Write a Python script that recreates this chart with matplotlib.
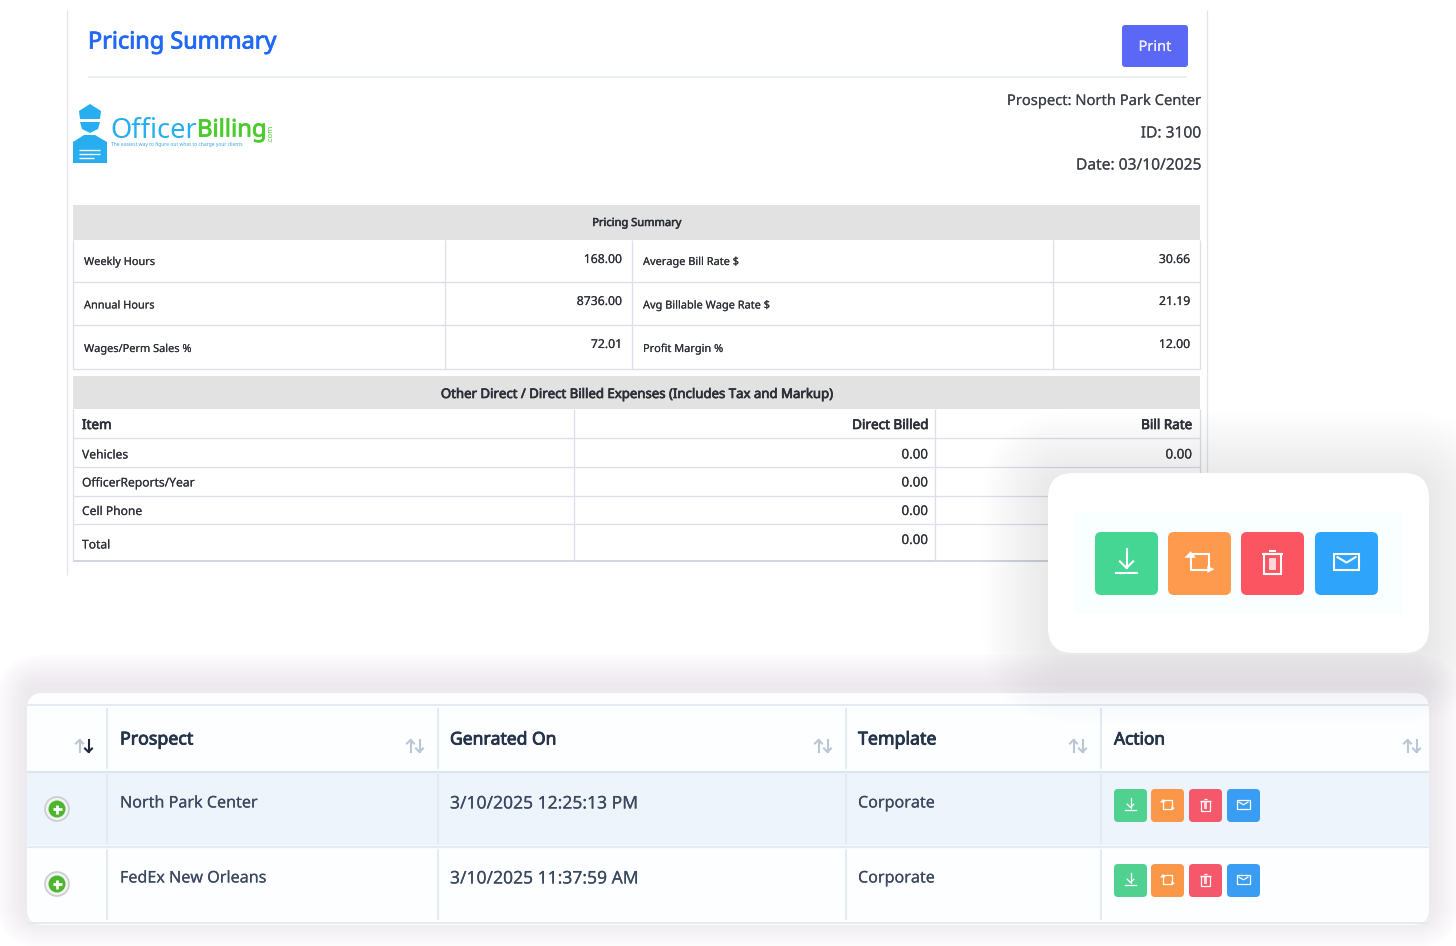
import matplotlib
matplotlib.use('Agg')
import matplotlib.pyplot as plt
import matplotlib.patheffects as pe
from matplotlib.patches import FancyBboxPatch, Rectangle, Circle, Polygon

plt.rcParams['font.family'] = ['Noto Sans', 'DejaVu Sans']

# Text and values
summary_left = ['Weekly Hours', 'Annual Hours', 'Wages/Perm Sales %']
summary_left_vals = ['168.00', '8736.00', '72.01']
summary_right = ['Average Bill Rate $', 'Avg Billable Wage Rate $', 'Profit Margin %']
summary_right_vals = ['30.66', '21.19', '12.00']
expense_items = ['Vehicles', 'OfficerReports/Year', 'Cell Phone', 'Total']
expense_direct = ['0.00', '0.00', '0.00', '0.00']
expense_bill = ['0.00']
prospects = ['North Park Center', 'FedEx New Orleans']
generated = ['3/10/2025 12:25:13 PM', '3/10/2025 11:37:59 AM']
templates = ['Corporate', 'Corporate']
list_headers = ['Prospect', 'Genrated On', 'Template', 'Action']
button_colors = ['#45d694', '#fd9a4e', '#fb5562', '#2fa4fb']
small_button_colors = ['#50d190', '#fb9748', '#f5586a', '#389df3']

fig = plt.figure(figsize=(14.56, 9.46), dpi=100)
ax = fig.add_axes([0, 0, 1, 1])
ax.set_xlim(0, 1456)
ax.set_ylim(946, 0)
ax.axis('off')

DARK = '#2c2f36'
LINE = '#dcdfea'


def txt(x, y, s, size=8.5, color=DARK, ha='left', stroke=0.08, z=5):
    t = ax.text(x, y + 2.5, s, fontsize=size, color=color, ha=ha, va='center', zorder=z)
    if stroke:
        t.set_path_effects([pe.withStroke(linewidth=stroke, foreground=color)])
    return t


def hline(x0, x1, y, color=LINE, lw=0.9, z=2):
    ax.plot([x0, x1], [y, y], color=color, lw=lw, zorder=z, solid_capstyle='butt')


def vline(x, y0, y1, color=LINE, lw=0.9, z=2):
    ax.plot([x, x], [y0, y1], color=color, lw=lw, zorder=z, solid_capstyle='butt')


def rbox(x0, y0, x1, y1, r, color, z=3, alpha=1.0):
    p = FancyBboxPatch((x0 + r, y0 + r), x1 - x0 - 2 * r, y1 - y0 - 2 * r,
                       boxstyle='round,pad=%f,rounding_size=%f' % (r, r),
                       fc=color, ec='none', alpha=alpha, zorder=z, lw=0)
    ax.add_patch(p)


def shadow(x0, y0, x1, y1, r, spread, z, color='#706a74', a=0.003, dy=10):
    for i in range(spread, 0, -3):
        rbox(x0 - i, y0 - i + dy, x1 + i, y1 + i + dy, r + i, color, z=z, alpha=a)


def icon_download(cx, cy, s, lw, z):
    ax.plot([cx, cx], [cy - 0.42 * s, cy + 0.2 * s], color='white', lw=lw, zorder=z)
    ax.plot([cx - 0.22 * s, cx, cx + 0.22 * s], [cy - 0.02 * s, cy + 0.2 * s, cy - 0.02 * s], color='white', lw=lw, zorder=z)
    ax.plot([cx - 0.36 * s, cx + 0.36 * s], [cy + 0.36 * s, cy + 0.36 * s], color='white', lw=lw, zorder=z)


def icon_crop(cx, cy, s, lw, z):
    ax.plot([cx - 0.3 * s, cx - 0.3 * s, cx + 0.3 * s, cx + 0.3 * s, cx - 0.3 * s],
            [cy - 0.28 * s, cy + 0.28 * s, cy + 0.28 * s, cy - 0.28 * s, cy - 0.28 * s],
            color='white', lw=lw, zorder=z)
    ax.add_patch(Polygon([[cx - 0.5 * s, cy - 0.14 * s], [cx - 0.3 * s, cy - 0.36 * s], [cx - 0.12 * s, cy - 0.14 * s]],
                         fc='white', ec='none', zorder=z))
    ax.add_patch(Polygon([[cx + 0.5 * s, cy + 0.24 * s], [cx + 0.26 * s, cy + 0.36 * s], [cx + 0.26 * s, cy + 0.12 * s]],
                         fc='white', ec='none', zorder=z))


def icon_trash(cx, cy, s, lw, z):
    ax.add_patch(Rectangle((cx - 0.28 * s, cy - 0.26 * s), 0.56 * s, 0.66 * s, fc='none', ec='white', lw=lw, zorder=z))
    ax.add_patch(Rectangle((cx - 0.12 * s, cy - 0.14 * s), 0.24 * s, 0.42 * s, fc='#ffd6da', ec='none', zorder=z))
    hline(cx - 0.34 * s, cx + 0.34 * s, cy - 0.26 * s, color='white', lw=lw, z=z)
    hline(cx - 0.12 * s, cx + 0.12 * s, cy - 0.38 * s, color='white', lw=lw, z=z)


def icon_mail(cx, cy, s, lw, z):
    ax.add_patch(Rectangle((cx - 0.42 * s, cy - 0.28 * s), 0.84 * s, 0.56 * s, fc='none', ec='white', lw=lw, zorder=z))
    ax.plot([cx - 0.3 * s, cx, cx + 0.3 * s], [cy - 0.16 * s, cy + 0.02 * s, cy - 0.16 * s], color='white', lw=lw, zorder=z)


icons = [icon_download, icon_crop, icon_trash, icon_mail]


def sort_arrows(x, y, down_dark=False):
    light = '#b9c6d3'
    xu, xd = x - 4.5, x + 4.5
    dark = '#1e2a3c' if down_dark else light
    ax.plot([xu, xu], [y - 6, y + 6], color=light, lw=1.5, zorder=5)
    ax.plot([xu - 3.5, xu, xu + 3.5], [y - 2.5, y - 6, y - 2.5], color=light, lw=1.5, zorder=5)
    ax.plot([xd, xd], [y - 6, y + 6], color=dark, lw=1.5, zorder=5)
    ax.plot([xd - 3.5, xd, xd + 3.5], [y + 2.5, y + 6, y + 2.5], color=dark, lw=1.5, zorder=5)


# report page
vline(67, 10, 575, color='#e2e4ec')
vline(1207, 10, 472, color='#e2e4ec')
txt(88, 40, 'Pricing Summary', size=16.9, color='#2168f5', stroke=0.6)
hline(88, 1187, 77, color='#e8edf5', lw=1.2)
rbox(1122, 25, 1188, 67, 3, '#5b68f6')
txt(1155, 45, 'Print', size=10.5, color='#eef0ff', ha='center')
txt(1201, 99, 'Prospect: North Park Center', size=10.6, color='#3c4149', ha='right')
txt(1201, 131, 'ID: 3100', size=11.2, color='#3c4149', ha='right')
txt(1201, 163, 'Date: 03/10/2025', size=11.2, color='#3c4149', ha='right')

# logo
blue = '#26aef0'
ax.add_patch(Polygon([[73, 163], [73, 142], [84, 135], [95, 135], [107, 142], [107, 163]], fc=blue, ec='none', zorder=4))
ax.add_patch(Polygon([[79, 111], [90, 104], [101, 111], [100, 119], [80, 119]], fc=blue, ec='none', zorder=4))
ax.add_patch(Polygon([[80, 122], [100, 122], [98, 129], [90, 133], [82, 129]], fc=blue, ec='none', zorder=4))
for yy, x1 in [(150, 100), (154, 100), (158, 94)]:
    hline(79, x1, yy, color='white', lw=1, z=5)
txt(110, 128, 'Officer', size=19.6, color='#26aef0', stroke=0)
txt(197, 128, 'Billing', size=17.2, color='#4ccb2e', stroke=0.6)
ax.text(270.5, 133, '.com', fontsize=5.5, color='#4ccb2e', rotation=90, ha='center', va='center', zorder=5)
txt(111, 142, 'The easiest way to figure out what to charge your clients', size=3.6, color='#3ba8e0', stroke=0)

# summary table
ax.add_patch(Rectangle((73, 205), 1127, 35, fc='#e2e2e2', ec='none', zorder=1))
txt(637, 221, 'Pricing Summary', size=8, ha='center', stroke=0.4)
for y in [282.5, 325.5, 369]:
    hline(73, 1200, y)
for x in [72.5, 445, 632, 1053, 1200]:
    vline(x, 240, 369)
row_y = [260, 303.5, 347]
val_y = [257, 299, 342]
for i in range(3):
    txt(84, row_y[i], summary_left[i], size=7.9)
    txt(622, val_y[i], summary_left_vals[i], size=8.8, ha='right')
    txt(643, row_y[i], summary_right[i], size=7.9)
    txt(1190, val_y[i], summary_right_vals[i], size=8.8, ha='right')

# expenses table
ax.add_patch(Rectangle((73, 376), 1127, 33, fc='#e2e2e2', ec='none', zorder=1))
txt(637, 392, 'Other Direct / Direct Billed Expenses (Includes Tax and Markup)', size=9.5, ha='center', stroke=0.5)
for y in [438, 467, 495.5, 524]:
    hline(73, 1200, y)
hline(73, 1200, 561, color='#c9cdde', lw=1.2)
for x in [72.5, 574, 935, 1200]:
    vline(x, 409, 561)
txt(82, 423, 'Item', size=9.7, stroke=0.5)
txt(928, 423, 'Direct Billed', size=9.7, ha='right', stroke=0.5)
txt(1192, 423, 'Bill Rate', size=9.7, ha='right', stroke=0.5)
item_y = [452.5, 480.5, 509, 542.5]
direct_y = [452.5, 480.5, 509, 538]
for i in range(4):
    txt(82, item_y[i], expense_items[i], size=8.7)
    txt(928, direct_y[i], expense_direct[i], size=9.6, ha='right')
txt(1192, 452.5, expense_bill[0], size=9.6, ha='right')

# popup card with the big buttons
shadow(1048, 473, 1429, 653, 25, 66, 8, a=0.002, dy=4)
rbox(1048, 473, 1429, 653, 25, 'white', z=9)
ax.add_patch(Rectangle((1074, 512), 328, 102, fc='#f9feff', ec='none', zorder=10))
big_x = [1095, 1168, 1241, 1315]
for x0, col, draw in zip(big_x, button_colors, icons):
    rbox(x0, 532, x0 + 63, 595, 6, col, z=11)
    draw(x0 + 31.5, 562, 30, 1.5, 12)

# list table card
shadow(27, 693, 1429, 925, 16, 30, 0, color='#e0d8e0', a=0.06, dy=-8)
rbox(27, 693, 1429, 925, 16, '#fdfeff', z=1)
ax.add_patch(Rectangle((27, 773), 1402, 72, fc='#eef4fb', ec='none', zorder=1.5))
edge = '#e2eaf4'
hline(27, 1429, 705, color=edge, lw=1.3)
hline(27, 1429, 771.5, color='#dbe6f2', lw=1.6)
hline(27, 1429, 846.5, color=edge, lw=1.6)
hline(27, 1429, 922.5, color=edge, lw=1.3)
col_x = [107, 438, 846, 1101]
for x in col_x:
    vline(x, 708, 769, color=edge, lw=1.5)
    vline(x, 774, 844, color=edge, lw=1.5)
    vline(x, 849, 920, color=edge, lw=1.5)

head_x = [120, 450, 858, 1114]
head_sizes = [12.8, 12.6, 12.8, 12.4]
for x, h, sz in zip(head_x, list_headers, head_sizes):
    txt(x, 737, h, size=sz, color='#243349', stroke=0.6)
sort_x = [84, 415, 823, 1078, 1412]
for i, x in enumerate(sort_x):
    sort_arrows(x, 746, down_dark=(i == 0))

small_x = [1114, 1151, 1189, 1227]
for row, (name, when, tpl, ty, by, cy) in enumerate(zip(prospects, generated, templates,
                                                          [801, 876], [789, 864], [809, 884])):
    txt(120, ty, name, size=11.6, color='#3a4860')
    txt(450, ty, when, size=12.6, color='#3a4860')
    txt(858, ty, tpl, size=11.6, color='#3a4860')
    ax.add_patch(Circle((57, cy), 12, fc='#f2f4f3', ec='#c9cdcb', lw=1.2, zorder=4))
    ax.add_patch(Circle((57, cy), 8.5, fc='#4db52e', ec='none', zorder=5))
    hline(52.5, 61.5, cy, color='white', lw=2, z=6)
    vline(57, cy - 4.5, cy + 4.5, color='white', lw=2, z=6)
    for x0, col, draw in zip(small_x, small_button_colors, icons):
        rbox(x0, by, x0 + 33, by + 33, 4, col, z=4)
        draw(x0 + 16.5, by + 15.5, 15, 0.9, 7)

fig.savefig('out.png', dpi=100)
